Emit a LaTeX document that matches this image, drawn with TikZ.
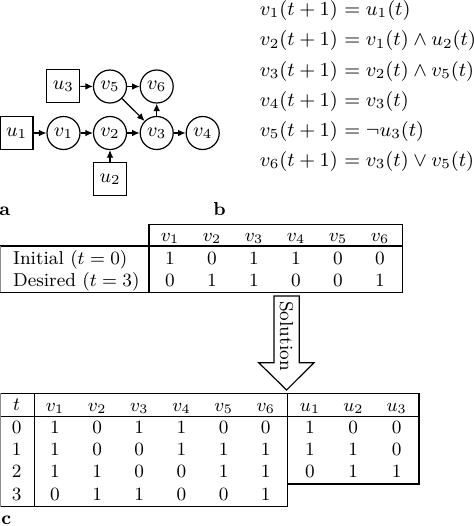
\RequirePackage{fix-cm}
\documentclass[tikz,border=0pt]{standalone}
\usetikzlibrary{arrows.meta}
\begin{document}
\begin{tikzpicture}[x=0.5pt,y=-0.5pt,
  vnode/.style={circle,draw,line width=0.6pt,minimum size=16.5pt,inner sep=0pt,font=\fontsize{9.8}{12}\selectfont},
  unode/.style={rectangle,draw,line width=0.6pt,minimum size=16.5pt,inner sep=0pt,font=\fontsize{9.8}{12}\selectfont},
  edge/.style={line width=0.6pt,-{Latex[length=3.8pt,width=3.4pt]}},
  eq/.style={inner sep=0pt,font=\fontsize{9.95}{12}\selectfont},
  tb/.style={inner sep=0pt,anchor=base,font=\fontsize{9.35}{11}\selectfont},
  lab/.style={inner sep=0pt,anchor=base west,font=\fontsize{9.4}{11}\selectfont\bfseries},
  rule/.style={line width=0.6pt}
]
\useasboundingbox (0,0) rectangle (474,526);

% ---- graph (a)
\node[unode] (u1) at (16.5,133) {$u_1$};
\node[vnode] (v1) at (63.5,133) {$v_1$};
\node[vnode] (v2) at (110,133) {$v_2$};
\node[vnode] (v3) at (156.7,133) {$v_3$};
\node[vnode] (v4) at (202.7,133) {$v_4$};
\node[unode] (u3) at (63.3,86.3) {$u_3$};
\node[vnode] (v5) at (110,86.5) {$v_5$};
\node[vnode] (v6) at (156.7,86.5) {$v_6$};
\node[unode] (u2) at (110,179) {$u_2$};
\draw[edge] (u1) -- (v1);
\draw[edge] (v1) -- (v2);
\draw[edge] (v2) -- (v3);
\draw[edge] (v3) -- (v4);
\draw[edge] (u3) -- (v5);
\draw[edge] (v5) -- (v6);
\draw[edge] (u2) -- (v2);
\draw[edge] (v3) -- (v6);
\draw[edge] (v5) -- (v3);

\node[lab] (la) at (-1,215) {a};
\node[lab] (lb) at (213,215) {b};
\node[lab] (lc) at (1,524.3) {c};

% ---- equations
\foreach \l/\r [count=\k] in {
  {v_1(t+1)}/{{}=u_1(t)},
  {v_2(t+1)}/{{}=v_1(t)\wedge u_2(t)},
  {v_3(t+1)}/{{}=v_2(t)\wedge v_5(t)},
  {v_4(t+1)}/{{}=v_3(t)},
  {v_5(t+1)}/{{}=\neg u_3(t)},
  {v_6(t+1)}/{{}=v_3(t)\vee v_5(t)}}{
  \pgfmathsetmacro{\by}{15.6+30.2*(\k-1)}
  \node[eq,anchor=base east] (eql\k) at (338.3,\by) {$\l$};
  \node[eq,anchor=base west] (eqr\k) at (338.3,\by) {$\r$};
}

% ---- table b
\draw[rule] (149,224.3) -- (402.7,224.3) -- (402.7,292.3) -- (0,292.3);
\draw[rule] (0,246) -- (402.7,246);
\draw[rule] (149,224.3) -- (149,292.3);
\draw[rule,black!45] (0.6,246) -- (0.6,292.3);
\foreach \i in {1,...,6}{
  \pgfmathsetmacro{\bx}{170+42*(\i-1)}
  \node[tb] (bh\i) at (\bx,241) {$v_{\i}$};
}
\node[tb,anchor=base west] (binit) at (12.7,264.5) {Initial ($t=0$)};
\node[tb,anchor=base west] (bdes) at (12.7,286.5) {Desired ($t=3$)};
\foreach \vals [count=\r] in {{1,0,1,1,0,0},{0,1,1,0,0,1}}{
  \foreach \v [count=\c] in \vals {
    \pgfmathsetmacro{\bx}{170+42*(\c-1)}
    \pgfmathsetmacro{\by}{264.5+22*(\r-1)}
    \node[tb] (b-\r-\c) at (\bx,\by) {\v};
  }
}

% ---- solution arrow
\draw[rule,fill=white] (274,296) -- (299.3,296) -- (299.3,362.7) -- (314,362.7)
  -- (286.6,390) -- (258.7,362.7) -- (274,362.7) -- cycle;
\node[tb,anchor=center,rotate=-90] (sol) at (286.6,336) {Solution};

% ---- table c
\draw[rule] (0,393.3) -- (419,393.3) -- (419,484) -- (287.3,484);
\draw[rule] (0,416.7) -- (419,416.7);
\draw[rule] (34.3,393.3) -- (34.3,506.7);
\draw[rule] (287.3,393.3) -- (287.3,506.7) -- (0,506.7);
\draw[rule,black!45] (0.6,393.3) -- (0.6,506.7);
\node[tb] (ct) at (16.7,410) {$t$};
\foreach \i in {1,...,6}{
  \pgfmathsetmacro{\bx}{55+42.15*(\i-1)}
  \node[tb] (cv\i) at (\bx,411) {$v_{\i}$};
}
\foreach \i in {1,2,3}{
  \pgfmathsetmacro{\bx}{310+43.3*(\i-1)}
  \node[tb] (cu\i) at (\bx,411) {$u_{\i}$};
}
\foreach \t in {0,...,3}{
  \pgfmathsetmacro{\by}{433.3+22.25*\t}
  \node[tb] (ct\t) at (16.7,\by) {\t};
}
\foreach \vals [count=\r] in {{1,0,1,1,0,0},{1,0,0,1,1,1},{1,1,0,0,1,1},{0,1,1,0,0,1}}{
  \foreach \v [count=\c] in \vals {
    \pgfmathsetmacro{\bx}{55+42.15*(\c-1)}
    \pgfmathsetmacro{\by}{433.3+22.25*(\r-1)}
    \node[tb] (cv-\r-\c) at (\bx,\by) {\v};
  }
}
\foreach \vals [count=\r] in {{1,0,0},{1,1,0},{0,1,1}}{
  \foreach \v [count=\c] in \vals {
    \pgfmathsetmacro{\bx}{310+43.3*(\c-1)}
    \pgfmathsetmacro{\by}{433.3+22.25*(\r-1)}
    \node[tb] (cu-\r-\c) at (\bx,\by) {\v};
  }
}
\end{tikzpicture}
\end{document}
